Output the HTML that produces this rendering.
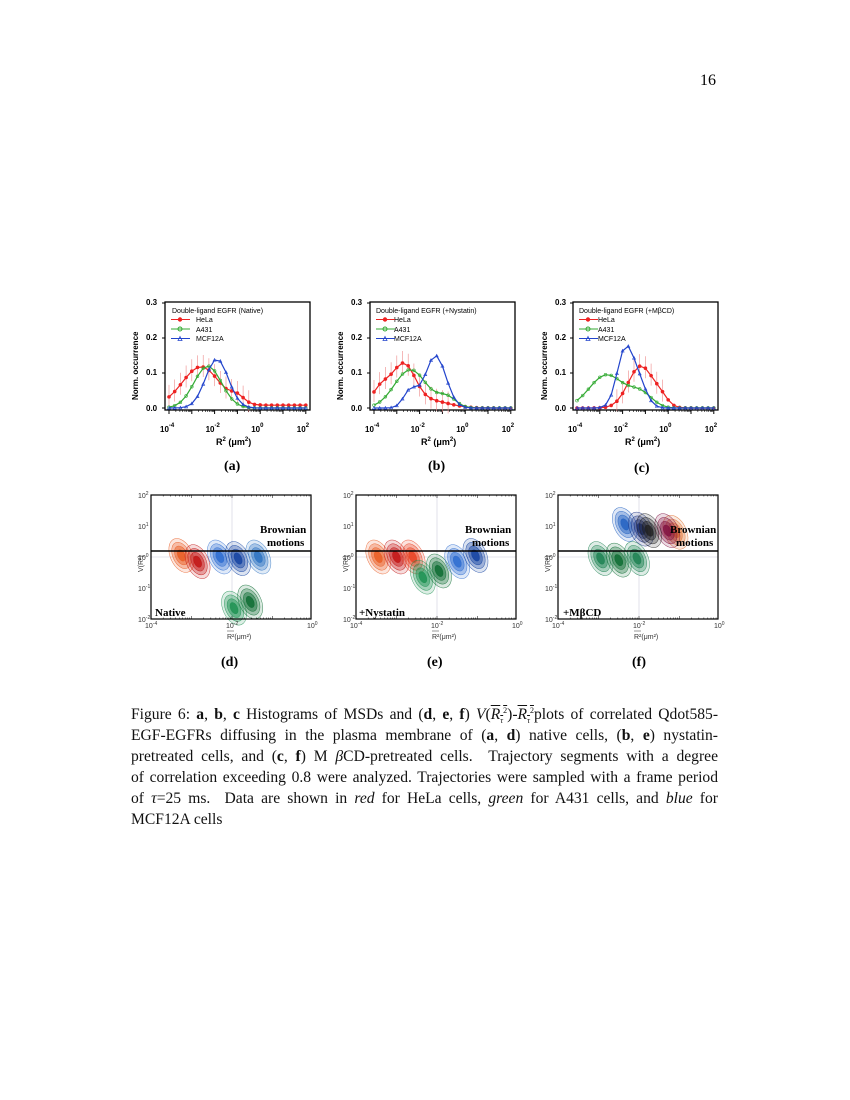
<!DOCTYPE html>
<html><head><meta charset="utf-8"><style>
body{margin:0;background:#fff}
#pg{position:relative;width:850px;height:1100px;overflow:hidden;background:#fff}
.cap{position:absolute;left:131px;top:704px;width:587px;font:15.6px/21px "Liberation Serif",serif;color:#111}
.cap div{height:21px;white-space:nowrap;text-align:justify;text-align-last:justify}
.cap div.last{text-align-last:left}
.ov{text-decoration:overline}
.pn{position:absolute;left:700px;top:72px;font:16px "Liberation Serif",serif}
svg text{font-family:"Liberation Sans",sans-serif}
svg text.sr{font-family:"Liberation Serif",serif}
</style></head><body><div id="pg">
<div class="pn">16</div>
<svg id="s" width="850" height="1100" style="position:absolute;left:0;top:0">
<text class="sr" x="224" y="470" font-size="14" font-weight="bold">(a)</text>
<text class="sr" x="428" y="470" font-size="14" font-weight="bold">(b)</text>
<text class="sr" x="634" y="472" font-size="14" font-weight="bold">(c)</text>
<text class="sr" x="221" y="666" font-size="14" font-weight="bold">(d)</text>
<text class="sr" x="427" y="666" font-size="14" font-weight="bold">(e)</text>
<text class="sr" x="632" y="666" font-size="14" font-weight="bold">(f)</text>
<text x="172" y="313" font-size="7">Double-ligand EGFR (Native)</text>
<text x="376" y="313" font-size="7">Double-ligand EGFR (+Nystatin)</text>
<text x="579" y="313" font-size="7">Double-ligand EGFR (+MβCD)</text>
<g font-size="7">
<text x="196" y="322">HeLa</text><text x="196" y="332">A431</text><text x="196" y="341">MCF12A</text>
<text x="394" y="322">HeLa</text><text x="394" y="332">A431</text><text x="394" y="341">MCF12A</text>
<text x="598" y="322">HeLa</text><text x="598" y="332">A431</text><text x="598" y="341">MCF12A</text>
</g>
<g font-size="8" font-weight="bold">
<text x="146" y="305">0.3</text><text x="146" y="340">0.2</text><text x="146" y="375">0.1</text><text x="146" y="411">0.0</text>
<text x="351" y="305">0.3</text><text x="351" y="340">0.2</text><text x="351" y="375">0.1</text><text x="351" y="411">0.0</text>
<text x="555" y="305">0.3</text><text x="555" y="340">0.2</text><text x="555" y="375">0.1</text><text x="555" y="411">0.0</text>
<text transform="translate(138,400) rotate(-90)">Norm. occurrence</text>
<text transform="translate(343,400) rotate(-90)">Norm. occurrence</text>
<text transform="translate(547,400) rotate(-90)">Norm. occurrence</text>
</g>
<g font-size="8" font-weight="bold" id="xt"></g>
<g font-size="9" font-weight="bold">
<text x="216" y="445">R<tspan font-size="6" dy="-4">2</tspan><tspan dy="4"> (μm</tspan><tspan font-size="6" dy="-4">2</tspan><tspan dy="4">)</tspan></text>
<text x="421" y="445">R<tspan font-size="6" dy="-4">2</tspan><tspan dy="4"> (μm</tspan><tspan font-size="6" dy="-4">2</tspan><tspan dy="4">)</tspan></text>
<text x="625" y="445">R<tspan font-size="6" dy="-4">2</tspan><tspan dy="4"> (μm</tspan><tspan font-size="6" dy="-4">2</tspan><tspan dy="4">)</tspan></text>
</g>
<g id="blobs"></g>
<g font-size="11" font-weight="bold">
<text class="sr" x="260" y="533">Brownian</text><text class="sr" x="267" y="546">motions</text>
<text class="sr" x="465" y="533">Brownian</text><text class="sr" x="472" y="546">motions</text>
<text class="sr" x="670" y="533">Brownian</text><text class="sr" x="676" y="546">motions</text>
<text class="sr" x="155" y="616">Native</text>
<text class="sr" x="359" y="616">+Nystatin</text>
<text class="sr" x="563" y="616">+MβCD</text>
</g>
<g id="bt" font-size="7" fill="#333"></g>
</svg>
<div class="cap">
<div>Figure 6: <b>a</b>, <b>b</b>, <b>c</b> Histograms of MSDs and (<b>d</b>, <b>e</b>, <b>f</b>) <i>V</i>(<span class="ov"><i>R<sub style="font-size:8px;line-height:0">τ</sub></i><sup style="font-size:8px;line-height:0">2</sup></span>)-<span class="ov"><i>R<sub style="font-size:8px;line-height:0">τ</sub></i><sup style="font-size:8px;line-height:0">2</sup></span>plots of correlated Qdot585-</div>
<div>EGF-EGFRs diffusing in the plasma membrane of (<b>a</b>, <b>d</b>) native cells, (<b>b</b>, <b>e</b>) nystatin-</div>
<div>pretreated cells, and (<b>c</b>, <b>f</b>) M <i>β</i>CD-pretreated cells. &nbsp;Trajectory segments with a degree</div>
<div>of correlation exceeding 0.8 were analyzed. Trajectories were sampled with a frame period</div>
<div>of <i>τ</i>=25 ms. &nbsp;Data are shown in <i>red</i> for HeLa cells, <i>green</i> for A431 cells, and <i>blue</i> for</div>
<div class="last">MCF12A cells</div>
</div>
</div>
<script>
const S=document.getElementById('s'),NS='http://www.w3.org/2000/svg';
function el(t,a,p){const e=document.createElementNS(NS,t);for(const k in a)e.setAttribute(k,a[k]);(p||S).appendChild(e);return e}
function g(x,m,s){return Math.exp(-((x-m)*(x-m))/(2*s*s))}
const tops=[165,370,573];
const curves=[
 [[ '#e22',x=>0.11*g(x,-2.6,0.8)+0.02*g(x,-1,0.3)+0.008],[ '#3a3',x=>0.12*g(x,-2.3,0.6)],[ '#24c',x=>0.14*g(x,-1.9,0.5)]],
 [[ '#e22',x=>0.12*g(x,-2.7,0.5)+0.055*g(x,-3.7,0.4)+0.02*g(x,-1.5,0.8)],[ '#3a3',x=>0.11*g(x,-2.4,0.7)+0.03*g(x,-0.8,0.4)],[ '#24c',x=>0.15*g(x,-1.3,0.45)+0.05*g(x,-2.4,0.3)]],
 [[ '#e22',x=>0.12*g(x,-1.2,0.55)+0.02*g(x,-0.3,0.3)],[ '#3a3',x=>0.095*g(x,-2.7,0.75)+0.04*g(x,-1.2,0.5)],[ '#24c',x=>0.16*g(x,-1.9,0.35)+0.07*g(x,-1.3,0.35)]]];
curves.forEach((cs,i)=>{
 const L=tops[i],T=303,B=410;
 const X=v=>L+4+(v+4)*22.8, Y=v=>408-v*350;
 el('rect',{x:L,y:T-1,width:145,height:B-T+1,fill:'none',stroke:'#000','stroke-width':1.3});
 [0,0.1,0.2,0.3].forEach(v=>el('line',{x1:L-3,x2:L,y1:Y(v),y2:Y(v),stroke:'#000'}));
 for(let d=-4;d<=2;d++){el('line',{x1:X(d),x2:X(d),y1:B,y2:B+4,stroke:'#000'});
   for(let k=2;k<10&&d<2;k++){const xx=X(d+Math.log10(k));el('line',{x1:xx,x2:xx,y1:B,y2:B+2,stroke:'#000','stroke-width':.6})}}
 const xt=document.getElementById('xt');
 [-4,-2,0,2].forEach(d=>{const t=el('text',{x:X(d)-9,y:432},xt);t.textContent='10';const s=el('tspan',{dy:-5,'font-size':6},t);s.textContent=d;});
 const lc=['#e22','#3a3','#24c'];
 lc.forEach((c,j)=>{const yy=319.5+j*9.5;el('line',{x1:L+6,x2:L+25,y1:yy,y2:yy,stroke:c});
   if(j==0)el('circle',{cx:L+15,cy:yy,r:2.2,fill:c});else if(j==1)el('circle',{cx:L+15,cy:yy,r:2,fill:'none',stroke:c});else el('path',{d:`M${L+13} ${yy+2}L${L+15} ${yy-2}L${L+17} ${yy+2}Z`,fill:'none',stroke:c,'stroke-width':.8})});
 cs.forEach(([c,f],j)=>{let p='';const pts=[];for(let k=0;k<=24;k++){const x=-4+k*0.25;const v=Math.max(0,f(x));pts.push([X(x),Y(v)]);p+=(k?'L':'M')+X(x).toFixed(1)+' '+Y(v).toFixed(1)}
  el('path',{d:p,fill:'none',stroke:c,'stroke-width':1.2});
  pts.forEach(([a,b],k)=>{if(j==0){if(k<16&&b<404){el('line',{x1:a,x2:a,y1:b-12,y2:b+10,stroke:'#e88','stroke-width':.6})}el('circle',{cx:a,cy:b,r:1.8,fill:c})}else if(j==1)el('circle',{cx:a,cy:b,r:1.4,fill:'none',stroke:c,'stroke-width':.6});else el('path',{d:`M${a-1.5} ${b+1.2}L${a} ${b-1.5}L${a+1.5} ${b+1.2}Z`,fill:'none',stroke:c,'stroke-width':.6})});
 });
});
const bots=[151,356,558];
const blobs=[
 [['#e85a20',-3.25,0.05],['#c01010',-2.85,-0.15],['#2a6ad0',-2.3,0],['#1040a0',-1.85,-0.05],['#2a70c0',-1.35,0],['#1a9050',-1.95,-1.65],['#0a6a30',-1.55,-1.45]],
 [['#e85a20',-3.45,0],['#c01010',-3.0,0],['#e84020',-2.6,0],['#1a9050',-2.35,-0.65],['#0a6a30',-1.95,-0.45],['#2a6ad0',-1.5,-0.15],['#1040a0',-1.05,0.05]],
 [['#1a8050',-2.95,-0.05],['#0a6a30',-2.5,-0.1],['#1a8050',-2.05,-0.05],['#2060c0',-2.35,1.05],['#1a3080',-1.95,0.9],['#e07030',-1.1,0.8],['#801040',-1.3,0.85],['#202020',-1.75,0.85]]];
const BG=document.getElementById('blobs');
blobs.forEach((bs,i)=>{
 const L=bots[i],W=160,T=495,B=619;
 const X=v=>L+(v+4)*40.5,Y=v=>557-v*31;
 el('line',{x1:X(-2),x2:X(-2),y1:T,y2:B,stroke:'#ccd','stroke-width':.6},BG);
 el('line',{x1:L,x2:L+W,y1:Y(0),y2:Y(0),stroke:'#ccd','stroke-width':.6},BG);
 bs.forEach(([c,x,y])=>{const cx=X(x),cy=Y(y);
  [[11,18,.15],[8.5,14,.3],[6,10,.45],[3.5,6,.8]].forEach(([rx,ry,o])=>{el('ellipse',{cx,cy,rx,ry,fill:c,'fill-opacity':o,stroke:c,'stroke-width':.5,'stroke-opacity':.8,transform:`rotate(-25 ${cx} ${cy})`},BG)});});
 el('rect',{x:L,y:T,width:W,height:B-T,fill:'none',stroke:'#000','stroke-width':1.2});
 el('line',{x1:L,x2:L+W,y1:551,y2:551,stroke:'#000','stroke-width':1.6});
 for(let d=-4;d<=0;d++){for(let k=1;k<10&&d<0;k++){const xx=X(d+Math.log10(k));el('line',{x1:xx,x2:xx,y1:T,y2:T+(k==1?3:1.5),stroke:'#000','stroke-width':.5});el('line',{x1:xx,x2:xx,y1:B,y2:B-(k==1?3:1.5),stroke:'#000','stroke-width':.5})}}
 const bt=document.getElementById('bt');
 [[-4,'-4'],[-2,'-2'],[0,'0']].forEach(([d,s])=>{const t=el('text',{x:X(d)-6,y:B+9},bt);t.textContent='10';const ts=el('tspan',{dy:-3,'font-size':5},t);ts.textContent=s});
 [[2,'2'],[1,'1'],[0,'0'],[-1,'-1'],[-2,'-2']].forEach(([d,s])=>{const t=el('text',{x:L-13,y:Y(d)+3},bt);t.textContent='10';const ts=el('tspan',{dy:-3,'font-size':5},t);ts.textContent=s});
 const yl=el('text',{transform:`translate(${L-8},572) rotate(-90)`},bt);yl.textContent='V(R²)';
 const xl=el('text',{x:X(-2)-5,y:B+20},bt);xl.textContent='R²(μm²)';
 el('line',{x1:X(-2)-5,x2:X(-2)+2,y1:B+12,y2:B+12,stroke:'#333','stroke-width':.5});
});
</script>
</body></html>
